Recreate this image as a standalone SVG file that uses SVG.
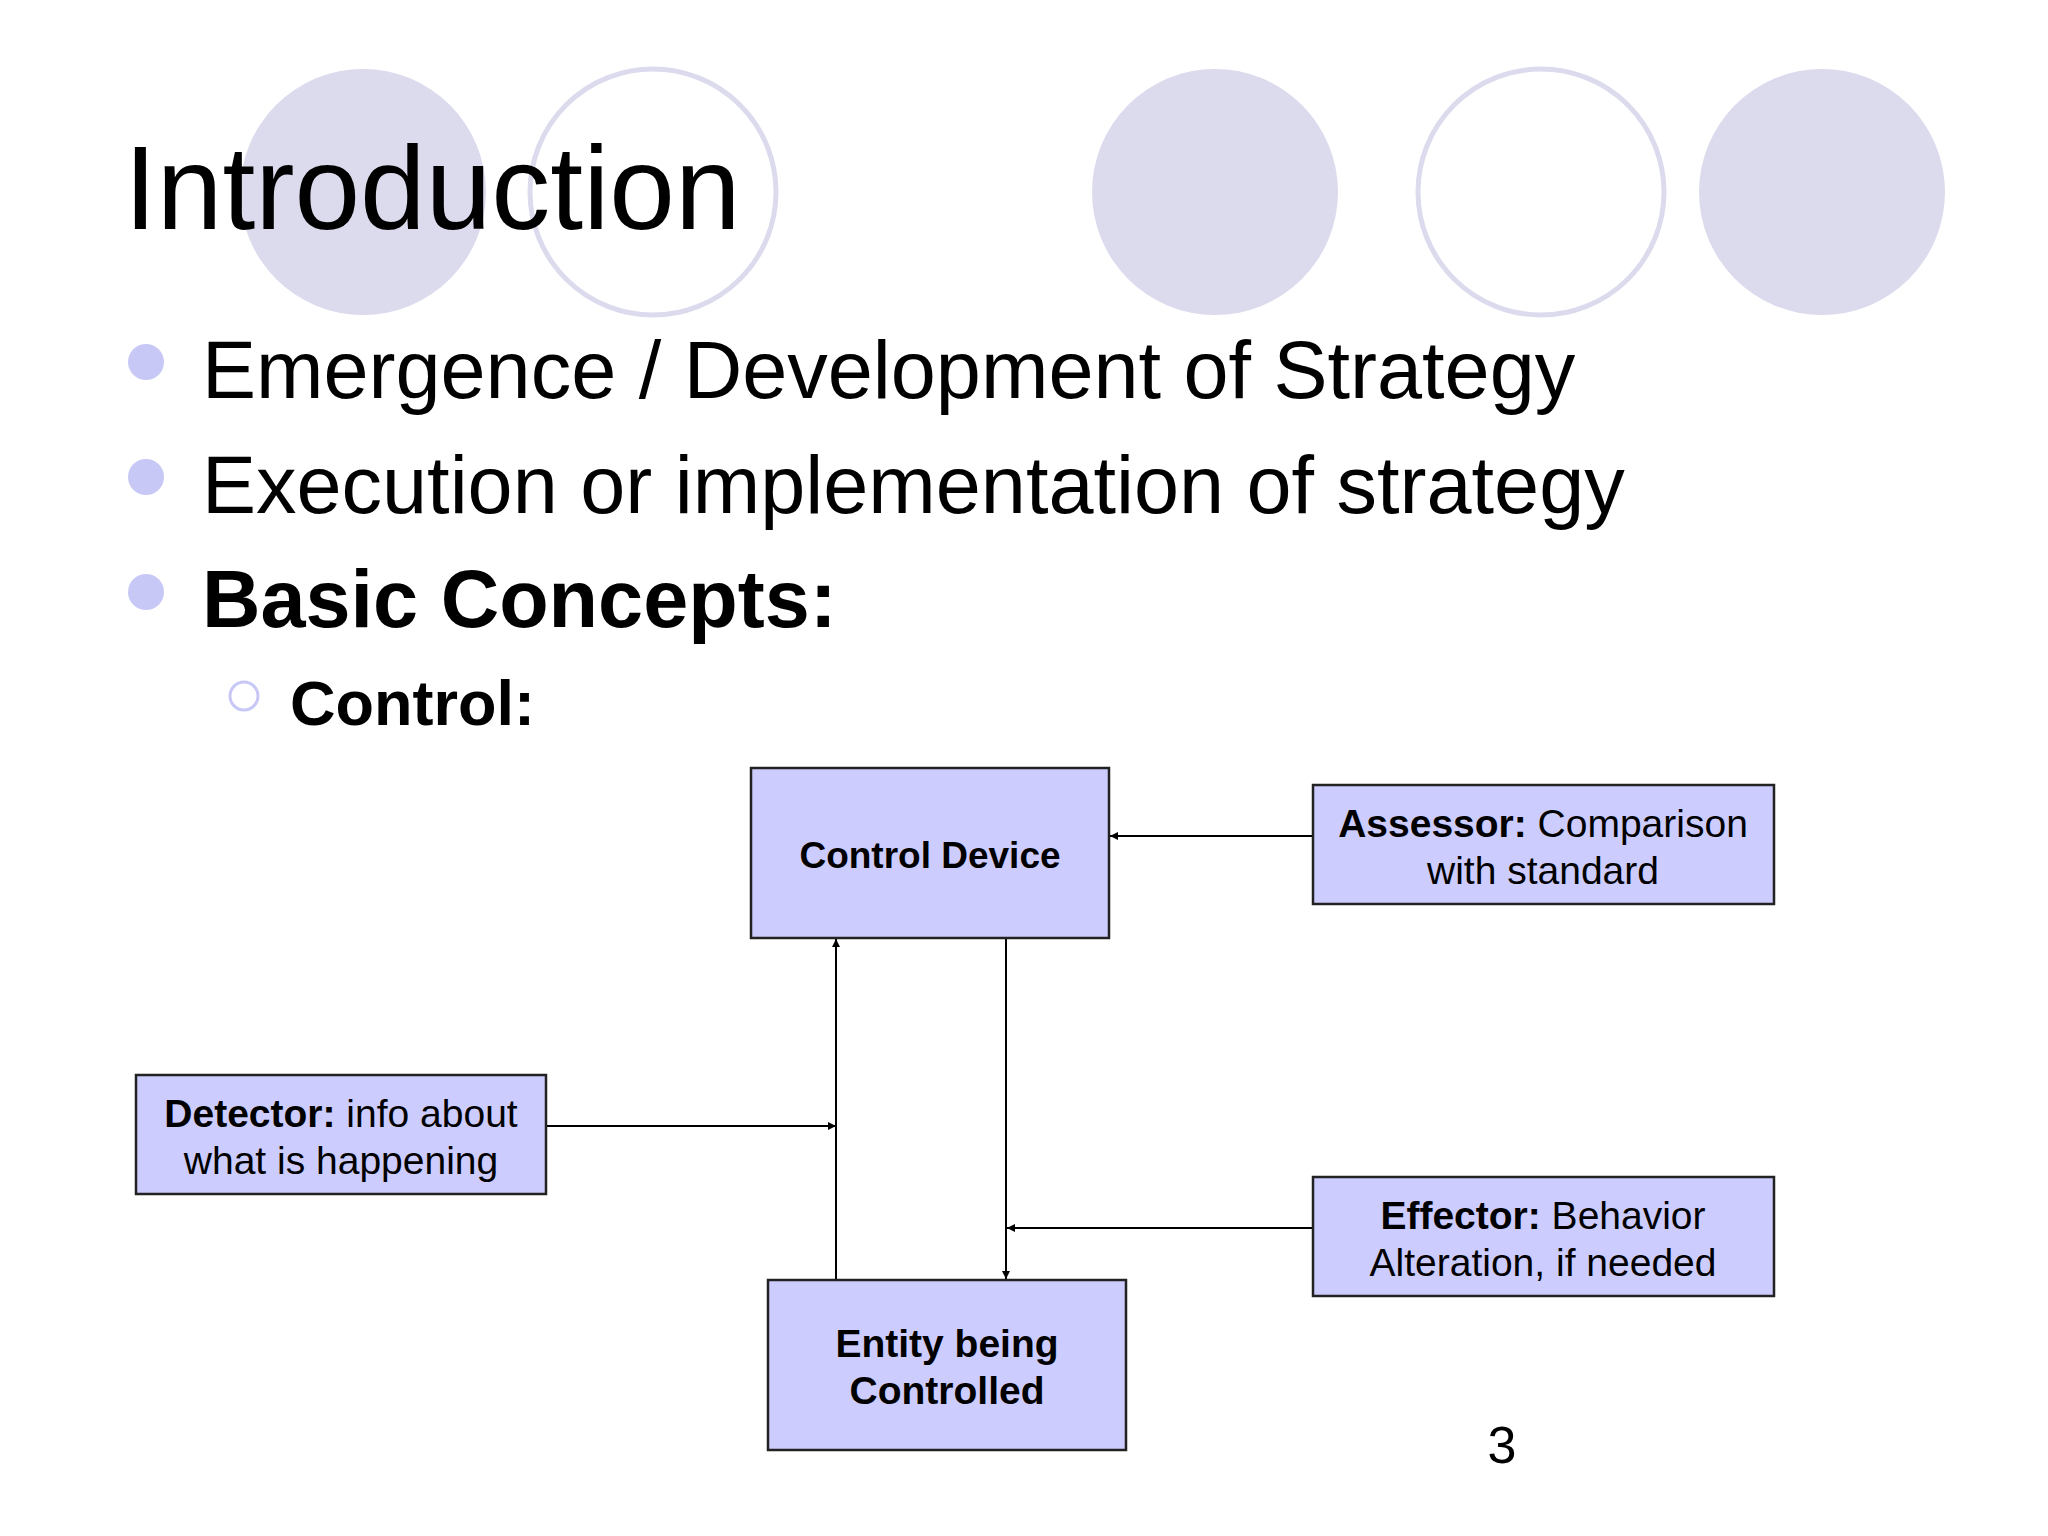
<svg xmlns="http://www.w3.org/2000/svg" width="2048" height="1536" viewBox="0 0 2048 1536">
<style>
.f{fill:#dcdbee}
.o{fill:none;stroke:#dcdbee;stroke-width:5}
.t{font-family:"Liberation Sans",Arial,sans-serif;fill:#000}
.box{fill:#ccccff;stroke:#222;stroke-width:2.5}
.bl{fill:#c8c8f6}
.c{stroke:#000;stroke-width:2;fill:none;marker-end:url(#a)}
</style>
<defs><marker id="a" viewBox="0 0 10 10" refX="10" refY="5" markerWidth="8" markerHeight="8" markerUnits="userSpaceOnUse" orient="auto"><path d="M0,0L10,5L0,10z" fill="#000"/></marker></defs>
<rect width="2048" height="1536" fill="#fff"/>
<circle class="f" cx="363" cy="192" r="123"/>
<circle class="o" cx="653" cy="192" r="123"/>
<circle class="f" cx="1215" cy="192" r="123"/>
<circle class="o" cx="1541" cy="192" r="123"/>
<circle class="f" cx="1822" cy="192" r="123"/>
<text class="t" x="124" y="229" font-size="118">Introduction</text>
<circle class="bl" cx="146" cy="362" r="18"/>
<text class="t" x="202" y="398" font-size="81">Emergence / Development of Strategy</text>
<circle class="bl" cx="146" cy="477" r="18"/>
<text class="t" x="202" y="513" font-size="81">Execution or implementation of strategy</text>
<circle class="bl" cx="146" cy="592" r="18"/>
<text class="t" x="202" y="627" font-size="81" font-weight="bold">Basic Concepts:</text>
<circle cx="244" cy="696" r="14" fill="none" stroke="#c8c8f6" stroke-width="3"/>
<text class="t" x="290" y="725" font-size="63" font-weight="bold">Control:</text>
<g id="connectors">
<line class="c" x1="1313" y1="836" x2="1110" y2="836"/>
<line class="c" x1="836" y1="1280" x2="836" y2="939"/>
<line class="c" x1="546" y1="1126" x2="836" y2="1126"/>
<line class="c" x1="1006" y1="938" x2="1006" y2="1279"/>
<line class="c" x1="1313" y1="1228" x2="1007" y2="1228"/>
</g>
<g id="control-device"><rect class="box" x="751" y="768" width="358" height="170"/>
<text class="t" x="930" y="868" font-size="37" font-weight="bold" text-anchor="middle">Control Device</text></g>
<g id="assessor"><rect class="box" x="1313" y="785" width="461" height="119"/>
<text class="t" x="1543" y="837" font-size="39" text-anchor="middle"><tspan font-weight="bold">Assessor:</tspan> Comparison</text>
<text class="t" x="1543" y="884" font-size="39" text-anchor="middle">with standard</text></g>
<g id="detector"><rect class="box" x="136" y="1075" width="410" height="119"/>
<text class="t" x="341" y="1127" font-size="39" text-anchor="middle"><tspan font-weight="bold">Detector:</tspan> info about</text>
<text class="t" x="341" y="1174" font-size="39" text-anchor="middle">what is happening</text></g>
<g id="effector"><rect class="box" x="1313" y="1177" width="461" height="119"/>
<text class="t" x="1543" y="1229" font-size="39" text-anchor="middle"><tspan font-weight="bold">Effector:</tspan> Behavior</text>
<text class="t" x="1543" y="1276" font-size="39" text-anchor="middle">Alteration, if needed</text></g>
<g id="entity"><rect class="box" x="768" y="1280" width="358" height="170"/>
<text class="t" x="947" y="1357" font-size="39" font-weight="bold" text-anchor="middle">Entity being</text>
<text class="t" x="947" y="1404" font-size="39" font-weight="bold" text-anchor="middle">Controlled</text></g>
<text class="t" x="1502" y="1463" font-size="52" text-anchor="middle">3</text>
</svg>
